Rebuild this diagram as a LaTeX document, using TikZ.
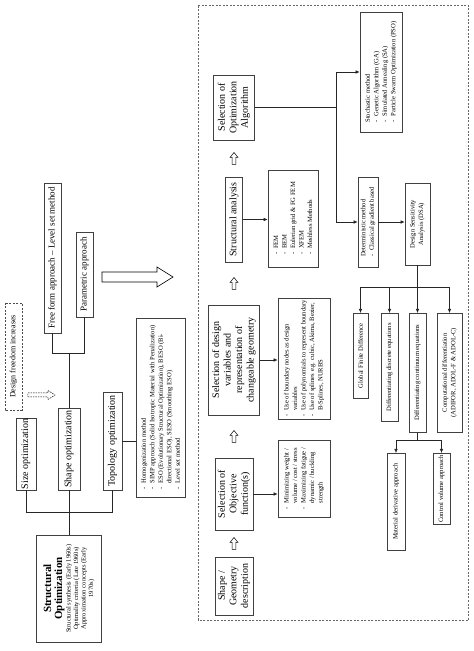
\documentclass[tikz,border=0pt]{standalone}
\usepackage{fontspec}
\setmainfont{Liberation Serif}
\usetikzlibrary{arrows.meta,calc}
\newcommand{\dashitem}{\makebox[6pt][l]{-}}
\newcommand{\dashcont}{\hspace*{6pt}}
\tikzset{
  >={Latex[length=4pt,width=3.5pt]},
  box/.style={draw=black!75, line width=0.6pt, align=center, inner sep=1pt, font=\fontsize{10}{11.5}\selectfont},
  mbox/.style={box, font=\fontsize{9}{10.5}\selectfont},
  lbox/.style={draw=black!75, line width=0.6pt, align=left, inner sep=2pt, font=\fontsize{6.6}{8.5}\selectfont},
  sbox/.style={lbox, align=center},
  link/.style={line width=0.6pt, draw=black!85},
  pics/uparrow/.style={code={\draw[line width=0.5pt] (-6,-1.8) -- (1,-1.8) -- (1,-4) -- (6,0) -- (1,4) -- (1,1.8) -- (-6,1.8) -- cycle;}}
}

\begin{document}
\begin{tikzpicture}
\begin{scope}[rotate=90, transform shape, x=1pt, y=1pt]
\useasboundingbox (0,0) rectangle (651,474);

% structural optimization tree
\node[box, minimum width=107, minimum height=65, line width=0.8pt, font=\fontsize{6.5}{7.5}\selectfont] (so) at (62.5,405)
  {{\fontsize{11}{13}\selectfont\bfseries Structural}\\[2pt]{\fontsize{11}{13}\selectfont\bfseries Optimization}\\[1pt]
   Structural synthesis (Early 1960s)\\ Optimality criteria (Late 1960s)\\ Approximation concepts (Early\\ 1970s)};
\node[box, minimum width=72, minimum height=20] (size) at (197,448) {Size optimization};
\node[box, minimum width=82, minimum height=22] (shape) at (202,405) {Shape optimization};
\node[box, minimum width=98, minimum height=19] (topo) at (210,361.5) {Topology optimization};
\node[box, minimum width=107, minimum height=17, draw=black!70, dash pattern=on 2pt off 1.5pt, font=\fontsize{8}{9}\selectfont] (freedom) at (294.5,460.5) {Design freedom increases};
\node[mbox, minimum width=150, minimum height=17] (freeform) at (393,421.5) {Free form approach -- Level set method};
\node[mbox, minimum width=85, minimum height=17] (param) at (376.5,389.5) {Parametric approach};
\node[lbox, minimum width=179, minimum height=49] (topolist) at (243.5,313.5)
  {\dashitem Homogenization method\\
   \dashitem SIMP approach (Solid Isotropic Material with Penalization)\\
   \dashitem ESO (Evolutionary Structural Optimization), BESO (Bi-\\
   \dashcont directional ESO), SESO (Smoothing ESO)\\
   \dashitem Level set method};

\draw[link] (size.west) -| ($(so.east)!0.5!(shape.west)$) |- (topo.west);
\draw[link] (so.east) -- (shape.west);
\draw[link] (shape.east) -- ++(54,0) coordinate (j2);
\draw[link] (freeform.west) -| (j2) |- (param.west);
\draw[link] (topo.south) -- (topo.south |- topolist.north);

% design freedom and big arrow
\draw[line width=0.5pt, dash pattern=on 1.5pt off 1pt] (254,446) -- (254,426) -- (251.5,426) -- (256,419) -- (260.5,426) -- (258,426) -- (258,446) -- cycle;
\draw[line width=0.6pt] (369,372) -- (369,317) -- (364,317) -- (374,301) -- (384,317) -- (379,317) -- (379,372) -- cycle;

% optimization process
\draw[draw=black!60, dash pattern=on 2pt off 1.5pt, line width=0.6pt] (31,6) rectangle (646,276);
\node[box, minimum width=58, minimum height=38] (shapegeo) at (65,240) {Shape /\\ Geometry\\ description};
\node[box, minimum width=72, minimum height=38] (objective) at (157,240) {Selection of\\ Objective\\ function(s)};
\node[box, minimum width=110, minimum height=51] (designvar) at (291,240) {Selection of design\\ variables and\\ representation of\\ changeable geometry};
\node[box, minimum width=85, minimum height=17] (structanal) at (431.5,240) {Structural analysis};
\node[box, minimum width=65, minimum height=41] (optalg) at (543.5,240) {Selection of\\ Optimization\\ Algorithm};
\foreach \a/\b in {shapegeo/objective, objective/designvar, designvar/structanal, structanal/optalg}
  \pic at ($(\a.east)!0.5!(\b.west)$) {uparrow};

\node[lbox, minimum width=77, minimum height=52] (objlist) at (172.5,170)
  {\dashitem Minimizing weight /\\ \dashcont volume / cost / stress\\ \dashitem Maximizing fatigue /\\ \dashcont dynamic / buckling\\ \dashcont strength};
\node[lbox, minimum width=117, minimum height=52] (varlist) at (292.5,170)
  {\dashitem Use of boundary nodes as design\\ \dashcont variables\\ \dashitem Use of polynomials to represent boundary\\
   \dashitem Use of splines e.g. cubic, Akima, Bezier,\\ \dashcont B-Splines, NURBS};
\node[lbox, minimum width=97, minimum height=50] (femlist) at (432.5,181)
  {\dashitem FEM\\ \dashitem BEM\\ \dashitem Eulerian grid \& FG FEM\\ \dashitem XFEM\\ \dashitem Meshless Methods};
\draw[link,->] (objective.south) -- (objective.south |- objlist.north);
\draw[link,->] (designvar.south) -- (designvar.south |- varlist.north);
\draw[link,->] (structanal.south) -- (structanal.south |- femlist.north);

% optimization algorithm
\node[lbox, minimum width=120, minimum height=42] (stoch) at (579,93)
  {Stochastic method\\ \dashitem Genetic Algorithm (GA)\\ \dashitem Simulated Annealing (SA)\\ \dashitem Particle Swarm Optimization (PSO)};
\node[lbox, minimum width=90, minimum height=20] (determ) at (429,106) {Deterministic method\\ \dashitem Classical gradient based};
\node[sbox, minimum width=82, minimum height=25] (dsa) at (427,56.5) {Design Sensitivity\\ Analysis (DSA)};
\draw[link] (optalg.south) -- ++(0,-82) coordinate (j3);
\draw[link,->] (j3) -| (stoch.north);
\draw[link,->] (j3) -| (determ.north);
\draw[link,->] (determ.south) -- (determ.south |- dsa.north);

% sensitivity analysis methods
\node[sbox, anchor=east, minimum width=85, minimum height=15] (gfd) at (338,113.5) {Global Finite Difference};
\node[sbox, anchor=east, minimum width=108, minimum height=17] (dde) at (338,84.5) {Differentiating discrete equations};
\node[sbox, anchor=east, minimum width=119, minimum height=17] (dce) at (338,56.5) {Differentiating continuum equations};
\node[sbox, anchor=east, minimum width=119, minimum height=25] (cdiff) at (338,24.5) {Computational differentiation\\ (ADIFOR, ADOL-F \& ADOL-C)};
\node[sbox, anchor=east, minimum width=97, minimum height=18] (matder) at (198,78) {Material derivative approach};
\node[sbox, anchor=east, minimum width=70, minimum height=17] (ctrlvol) at (198,32.5) {Control volume approach};
\draw[link] (dsa.west) -- ++(-22,0) coordinate (j4);
\foreach \n in {gfd,dde,dce,cdiff} \draw[link,->] (j4) |- (\n.east);
\draw[link] (dce.west) -- ++(-8,0) coordinate (j5);
\foreach \n in {matder,ctrlvol} \draw[link,->] (j5) |- (\n.east);
\end{scope}
\end{tikzpicture}
\end{document}
